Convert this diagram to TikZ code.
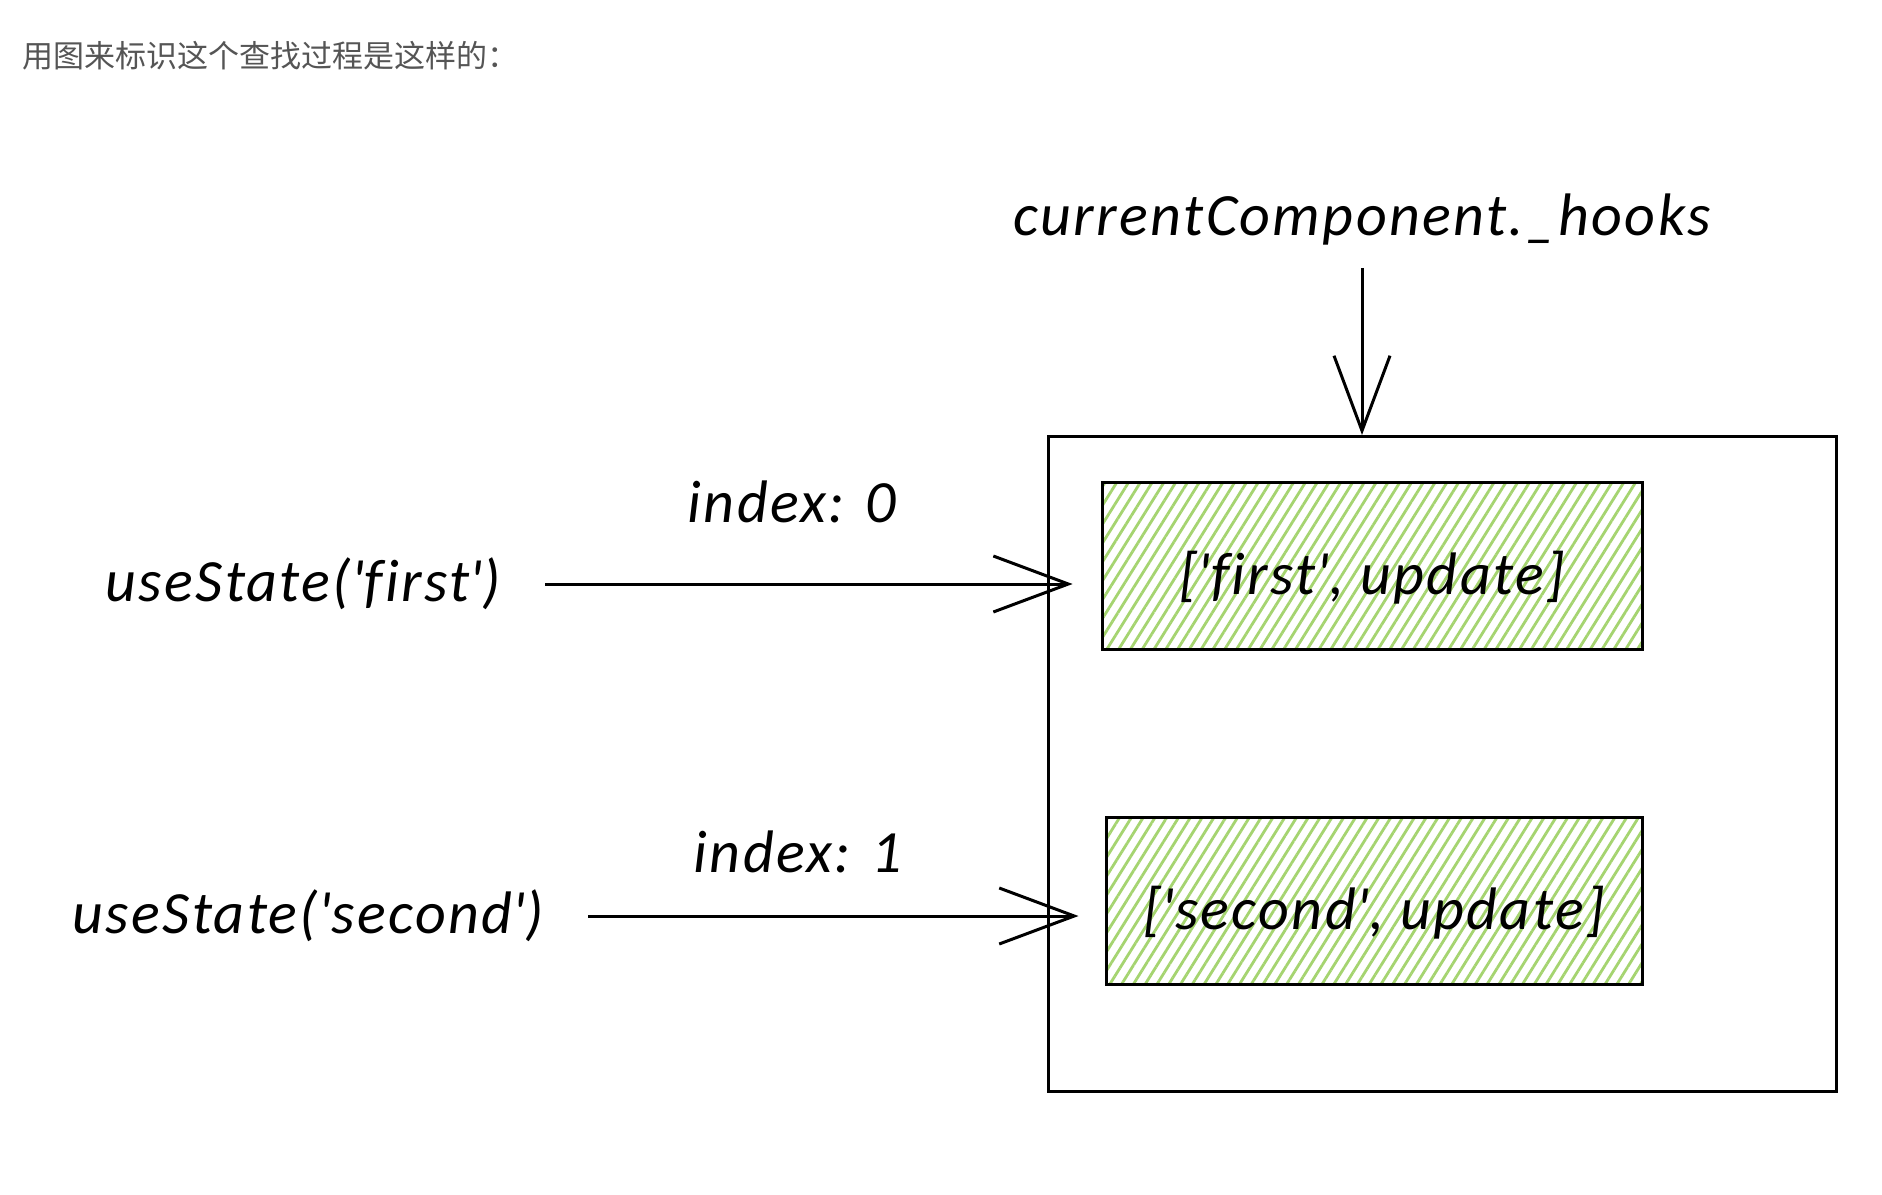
\documentclass[tikz,border=0pt]{standalone}
\usepackage{fontspec}
\setmainfont{Carlito}[Ligatures=NoCommon]
\newfontfamily\handfont{Carlito}[Ligatures=NoCommon, LetterSpace=4]
\newfontfamily\cjk{Noto Sans CJK SC}
\usetikzlibrary{arrows.meta,patterns.meta,positioning}
\definecolor{hatchgreen}{RGB}{165,212,112}
\definecolor{titlegray}{RGB}{85,85,85}
\newcommand{\sq}{\textquotesingle}
\newcommand{\lowered}[1]{\raisebox{-12pt}[\height][\depth]{#1}}

\begin{document}
\begin{tikzpicture}[x=1pt,y=-1pt,
        hand/.style={font=\handfont\fontsize{60}{70}\selectfont\itshape, inner sep=4pt},
        slot/.style={hand, draw, line width=3pt,
                pattern={Lines[angle=58,distance=10pt,line width=2.8pt]},
                pattern color=hatchgreen,
                minimum width=540pt, minimum height=167pt},
        link/.style={line width=3pt,
                -{Straight Barb[length=75pt,width=56pt,line width=3pt]}}]
    \fill[white] (0,0) rectangle (1882,1194);
    \useasboundingbox (0,0) rectangle (1882,1194);
    \node[anchor=west, font=\cjk\fontsize{31}{36}\selectfont, text=titlegray,
        inner sep=0pt] (title) at (22,56) {用图来标识这个查找过程是这样的：};
    % the hooks list and its two slots
    \node[draw, line width=3pt, minimum width=788pt, minimum height=655pt]
        (hooks) at (1442,764) {};
    \node[slot] (first) at (1372,566) {\lowered{[\sq first\sq, update]}};
    \node[slot, minimum width=536pt] (second) at (1374,901)
        {\lowered{[\sq second\sq, update]}};
    \node[hand] (name) at (1362,220) {currentComponent.\_hooks};
    % calls on the left
    \node[hand, anchor=east] (callA) at (505,584) {useState(\sq first\sq)};
    \node[hand, anchor=east] (callB) at (548,916) {useState(\sq second\sq)};
    \node[hand] (idxA) at (792,502) {index: 0};
    \node[hand] (idxB) at (798,852) {index: 1};
    % arrows
    \draw[link, shorten <=18pt] (name.south) -- (name.south |- hooks.north);
    \draw[link, shorten <=40pt, shorten >=28pt] (callA.east) -- (callA.east -| first.west);
    \draw[link, shorten <=40pt, shorten >=26pt] (callB.east) -- (callB.east -| second.west);
\end{tikzpicture}
\end{document}
